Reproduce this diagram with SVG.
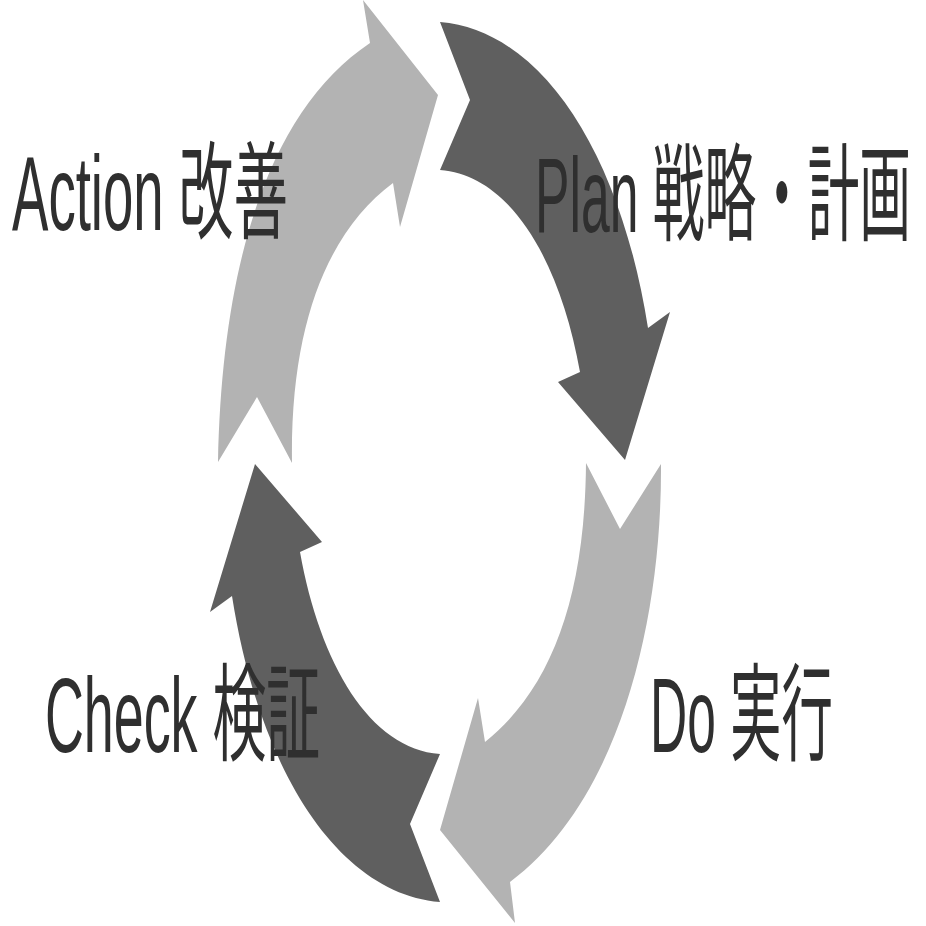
<svg xmlns="http://www.w3.org/2000/svg" width="926" height="926" viewBox="0 0 926 926">
<style>
.dk{fill:#5f5f5f}.lt{fill:#b3b3b3}
text{font-family:"Liberation Sans","Noto Sans CJK JP",sans-serif;font-size:106px;fill:#2f2f2f}
</style>
<rect width="926" height="926" fill="#fff"/>
<g id="arrow-plan"><path class="dk" d="M440,22 C540,30 620,150 648,328 L670,312 L625,460 L558,382 L580,372 C560,260 510,175 440,170 L470,100 Z"/></g>
<g id="arrow-do"><path class="lt" d="M586,463 L620,529 L661,464 C662,620 620,800 510,882 L515,923 L440,830 L478,698 L485,742 C550,690 585,600 586,463 Z"/></g>
<g id="arrow-check"><path class="dk" transform="rotate(180 440 462)" d="M440,22 C540,30 620,150 648,328 L670,312 L625,460 L558,382 L580,372 C560,260 510,175 440,170 L470,100 Z"/></g>
<g id="arrow-action"><path class="lt" d="M218,462 L257,397 L292,463 C290,320 330,230 393,183 L400,227 L438,95 L363,0 L370,43 C270,110 222,260 218,462 Z"/></g>
<g id="label-plan"><text x="535" y="232" textLength="376" lengthAdjust="spacingAndGlyphs">Plan 戦略・計画</text></g>
<g id="label-do"><text x="650" y="752" textLength="183" lengthAdjust="spacingAndGlyphs">Do 実行</text></g>
<g id="label-check"><text x="45" y="752" textLength="275" lengthAdjust="spacingAndGlyphs">Check 検証</text></g>
<g id="label-action"><text x="12" y="230" textLength="276" lengthAdjust="spacingAndGlyphs">Action 改善</text></g>
</svg>
